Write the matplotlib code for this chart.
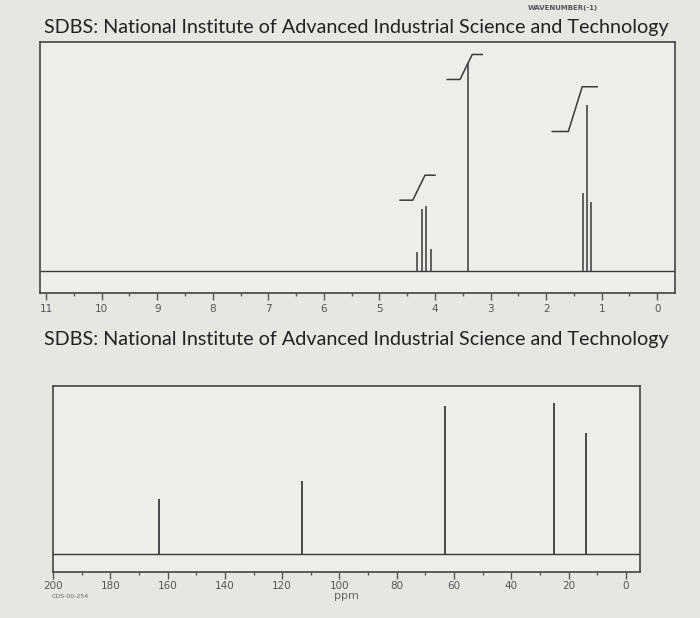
import matplotlib.pyplot as plt

# 1H spectrum (ppm, relative height)
h_ppm = [4.32, 4.24, 4.16, 4.08, 3.40, 1.33, 1.26, 1.19]
h_height = [9, 30, 31, 10.5, 100, 37.5, 79.5, 33]

# integral curves: start ppm, rise start, rise end, end ppm, low level, high level
int_x = [[4.63, 4.40, 4.18, 4.00], [3.78, 3.55, 3.33, 3.15], [1.89, 1.60, 1.35, 1.08]]
int_low = [34, 92, 67]
int_high = [46, 104, 88.5]

h_ticks = list(range(0, 12))

# 13C spectrum (ppm, relative height)
c_ppm = [163, 113, 63, 25, 14]
c_height = [37, 49, 99, 101, 81]
c_ticks = list(range(0, 201, 20))

title = "SDBS: National Institute of Advanced Industrial Science and Technology"
bg = '#e8e6e1'
ink = '#3a3a3a'

fig = plt.figure(figsize=(7, 6.18), dpi=100, facecolor=bg)

# ---- 1H panel ----
ax1 = fig.add_axes([40/700, 1-293/618, 635/700, 251/618])
ax1.set_facecolor('#eeede9')
ax1.axhline(0, color=ink, lw=1.0)
ax1.vlines(h_ppm, 0, h_height, color=ink, lw=1.1)
for xs, lo, hi in zip(int_x, int_low, int_high):
    ax1.plot(xs, [lo, lo, hi, hi], color=ink, lw=1.1)
ax1.set_xlim(11.11, -0.32)
ax1.set_ylim(-10.6, 110)
ax1.set_xticks(h_ticks)
ax1.set_xticks([t + 0.5 for t in h_ticks[:-1]], minor=True)
ax1.set_yticks([])

# ---- 13C panel ----
ax2 = fig.add_axes([53/700, 1-572/618, 587/700, 186/618])
ax2.set_facecolor('#eeede9')
ax2.axhline(0, color=ink, lw=1.0)
ax2.vlines(c_ppm, 0, c_height, color=ink, lw=1.3)
ax2.set_xlim(200, -4.9)
ax2.set_ylim(-12, 112)
ax2.set_xticks(c_ticks)
ax2.set_xticks([t + 10 for t in c_ticks[:-1]], minor=True)
ax2.set_yticks([])
ax2.set_xlabel('ppm', fontsize=8, color='#666', labelpad=0)

for ax in (ax1, ax2):
    for s in ax.spines.values():
        s.set_color('#444')
        s.set_linewidth(1.2)
    ax.tick_params(axis='x', which='major', direction='out', length=5, width=1,
                   color='#555', labelsize=7.5, labelcolor='#555', pad=3)
    ax.tick_params(axis='x', which='minor', direction='out', length=2.5, width=1,
                   color='#555')
ax2.tick_params(axis='x', which='major', pad=1.5)

fig.text(356/700, 1-27/618, title, fontsize=14.2, family='Lato', color='#222',
         ha='center', va='center')
fig.text(356/700, 1-340/618, title, fontsize=14.2, family='Lato', color='#222',
         ha='center', va='center')
fig.text(528/700, 1-8/618, 'WAVENUMBER(-1)', fontsize=5, fontweight='bold',
         color='#555', ha='left', va='center')
fig.text(52/700, 1-597/618, 'CDS-00-254', fontsize=4.5, color='#666',
         ha='left', va='center')

plt.savefig('out.png', dpi=100, facecolor=bg)
